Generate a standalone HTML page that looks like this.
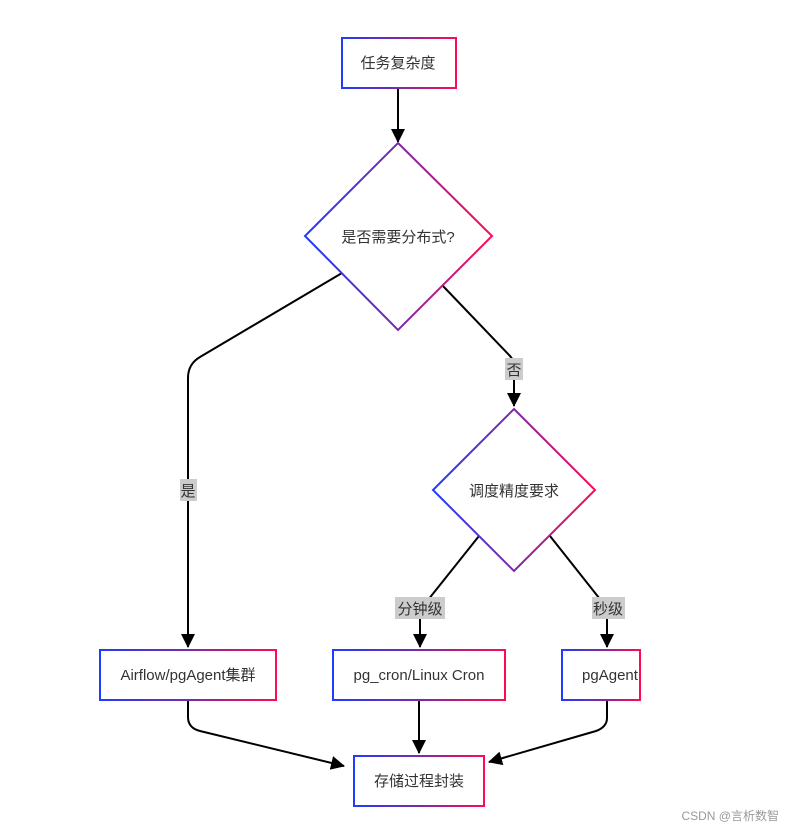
<!DOCTYPE html>
<html><head><meta charset="utf-8"><style>
html,body{margin:0;padding:0;background:#fff;}
svg text{font-family:"Liberation Sans","Noto Sans CJK SC",sans-serif;fill:#333;}
</style></head><body>
<svg width="786" height="829" viewBox="0 0 786 829" xmlns="http://www.w3.org/2000/svg">
<defs>
<linearGradient id="g" x1="0" y1="0" x2="1" y2="0">
<stop offset="0" stop-color="#1e3cff"/><stop offset="0.5" stop-color="#7a2aa8"/><stop offset="1" stop-color="#ff0a54"/>
</linearGradient>
<marker id="a" markerWidth="10" markerHeight="10" refX="9" refY="5" orient="auto" markerUnits="userSpaceOnUse" viewBox="0 0 10 10">
<path d="M0,0 L10,5 L0,10 z" fill="#000"/>
</marker>
<marker id="b" markerWidth="14" markerHeight="14" refX="13" refY="7" orient="auto" markerUnits="userSpaceOnUse" viewBox="0 0 14 14">
<path d="M0,0 L14,7 L0,14 z" fill="#000"/>
</marker>
</defs>
<g stroke="#000" stroke-width="2" fill="none">
<path d="M398,88 V142" marker-end="url(#b)"/>
<path d="M342,273 L200,357 Q188,364 188,378 V647" marker-end="url(#b)"/>
<path d="M443,286 L510,356 Q514,360 514,368 V406" marker-end="url(#b)"/>
<path d="M479,536 L420,610 V647" marker-end="url(#b)"/>
<path d="M550,536 L607,608 V647" marker-end="url(#b)"/>
<path d="M188,700 V717 Q188,728 200,731 L344,766" marker-end="url(#b)"/>
<path d="M419,700 V753" marker-end="url(#b)"/>
<path d="M607,700 V718 Q607,727 596,731 L489,762" marker-end="url(#b)"/>
</g>
<g fill="#fff" stroke="url(#g)" stroke-width="2">
<rect x="342" y="38" width="114" height="50"/>
<polygon points="398,143 492,236 398,330 305,236"/>
<polygon points="514,409 595,490 514,571 433,490"/>
<rect x="100" y="650" width="176" height="50"/>
<rect x="333" y="650" width="172" height="50"/>
<rect x="562" y="650" width="78" height="50"/>
<rect x="354" y="756" width="130" height="50"/>
</g>
<g fill="#ccc">
<rect x="180" y="479" width="17" height="22"/>
<rect x="505" y="358" width="18" height="22"/>
<rect x="395" y="597" width="50" height="22"/>
<rect x="592" y="597" width="33" height="22"/>
</g>
<g font-size="15" text-anchor="middle">
<text x="398" y="68">任务复杂度</text>
<text x="398" y="242">是否需要分布式?</text>
<text x="514" y="496">调度精度要求</text>
<text x="188" y="680">Airflow/pgAgent集群</text>
<text x="419" y="680">pg_cron/Linux Cron</text>
<text x="610" y="680">pgAgent</text>
<text x="419" y="786">存储过程封装</text>
<text x="188" y="496">是</text>
<text x="514" y="375">否</text>
<text x="420" y="614">分钟级</text>
<text x="608" y="614">秒级</text>
</g>
<text x="779" y="820" font-size="12" text-anchor="end" style="fill:#999">CSDN @言析数智</text>
</svg>
</body></html>
